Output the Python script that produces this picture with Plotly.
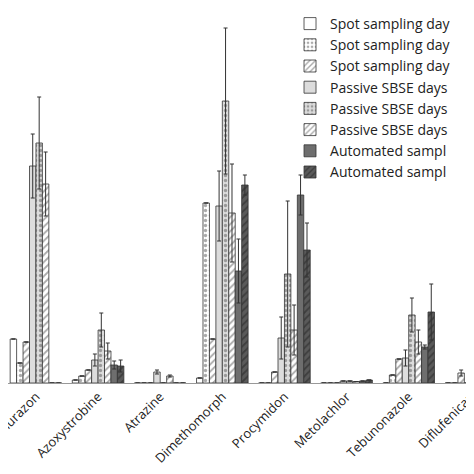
import plotly.graph_objects as go

categories = ['Norflurazon', 'Azoxystrobine', 'Atrazine', 'Dimethomorph',
              'Procymidon', 'Metolachlor', 'Tebunonazole', 'Diflufenican']

# legend names as far as they are visible in the picture
series_names = ['Spot sampling day', 'Spot sampling day', 'Spot sampling day',
                'Passive SBSE days', 'Passive SBSE days', 'Passive SBSE days',
                'Automated sampl', 'Automated sampl']

# values in arbitrary units
spot_0 = [44, 3, 0, 5, 0, 0, 0, 0]
spot_1 = [20, 7, 0, 180, 0, 0, 8, 0]
spot_2 = [41, 13, 0, 44, 11, 0, 24, 10]
passive_1 = [217, 23, 11, 177, 45, 2, 25, 0]
passive_2 = [240, 53, 0, 282, 109, 2, 68, 0]
passive_3 = [199, 32, 7, 170, 53, 1.5, 41, 0]
auto_1 = [0, 18, 0, 112, 188, 2, 36, 0]
auto_2 = [0, 17, 0, 198, 133, 3, 71, 0]

err_spot_0 = [0, 0, 0, 0, 0, 0, 0, 0]
err_spot_1 = [0, 0, 0, 0, 0, 0, 0, 0]
err_spot_2 = [0, 0, 0, 0, 0, 0, 0, 3]
err_passive_1 = [32, 6, 2, 35, 21, 0, 8, 0]
err_passive_2 = [46, 17, 0, 73, 73, 0, 17, 0]
err_passive_3 = [32, 8, 1, 49, 25, 0, 12, 0]
err_auto_1 = [0, 4, 0, 32, 20, 0, 2, 0]
err_auto_2 = [0, 6, 0, 10, 27, 0, 28, 0]

values = [spot_0, spot_1, spot_2, passive_1, passive_2, passive_3, auto_1, auto_2]
errors = [err_spot_0, err_spot_1, err_spot_2, err_passive_1, err_passive_2,
          err_passive_3, err_auto_1, err_auto_2]

styles = [
    dict(color='white', shape='', fg='#444'),
    dict(color='white', shape='.', fg='#555'),
    dict(color='white', shape='/', fg='#555'),
    dict(color='#dcdcdc', shape='', fg='#555'),
    dict(color='#dcdcdc', shape='.', fg='#555'),
    dict(color='white', shape='/', fg='#555'),
    dict(color='#6e6e6e', shape='', fg='#444'),
    dict(color='#5a5a5a', shape='/', fg='#222'),
]

fig = go.Figure()
for name, vals, errs, st in zip(series_names, values, errors, styles):
    fig.add_trace(go.Bar(
        x=categories, y=vals, name=name,
        marker=dict(color=st['color'], line=dict(color='#333', width=0.8),
                    pattern=dict(shape=st['shape'], fgcolor=st['fg'], size=5, solidity=0.35)),
        error_y=dict(type='data', array=errs, visible=True, color='#333',
                     thickness=1, width=2),
    ))

fig.update_layout(
    width=474, height=474,
    margin=dict(l=0, r=0, t=0, b=99),
    paper_bgcolor='white', plot_bgcolor='white',
    barmode='group', bargap=0.17, bargroupgap=0,
    font=dict(family='Open Sans', size=12, color='#333'),
    showlegend=True,
    legend=dict(x=0.595, y=1.0, xanchor='left', yanchor='top',
                font=dict(size=14, color='#222'), tracegroupgap=0,
                itemwidth=30, bgcolor='rgba(0,0,0,0)'),
    xaxis=dict(range=[-0.45, 7.18], tickangle=-45, showline=True, automargin=False,
               linecolor='#999', ticks='', tickfont=dict(size=13, color='#222')),
    yaxis=dict(range=[0, 375], visible=False, automargin=False),
)

fig.write_html("out.html")
